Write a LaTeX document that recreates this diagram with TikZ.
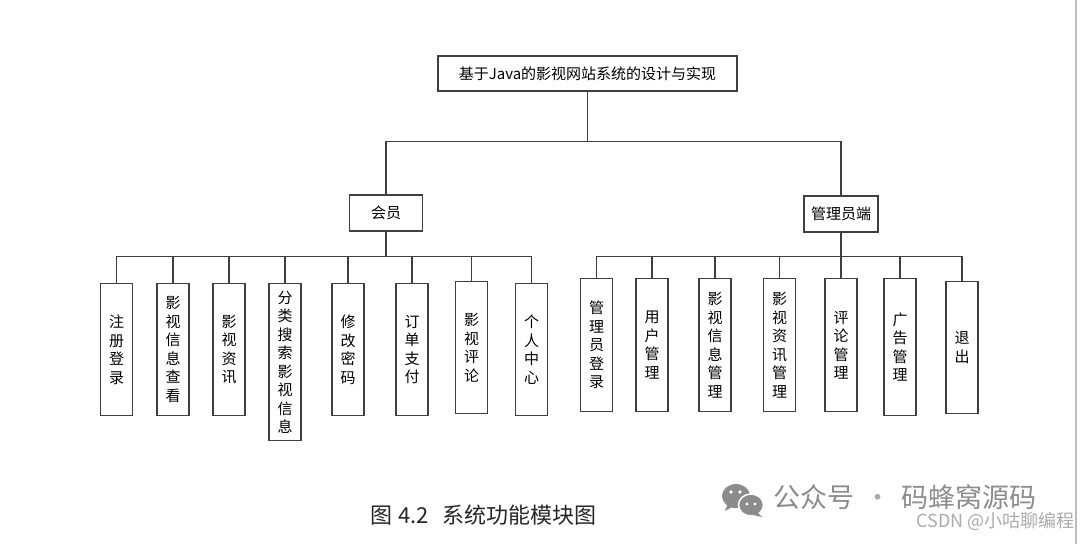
\documentclass[tikz,border=0pt]{standalone}
\usepackage{fontspec}
\setmainfont{Noto Sans CJK SC}
\usetikzlibrary{positioning}

\definecolor{linegray}{HTML}{3F3F3F}
\definecolor{wmgray}{HTML}{8C8C8C}
\definecolor{wmlight}{HTML}{ABABAB}
\definecolor{bordergray}{HTML}{BDBDBD}

\tikzset{
	line/.style={line width=1.4pt, draw=linegray},
	box/.style={draw=linegray, line width=1.4pt, inner sep=0pt, align=center, font=\fontsize{15pt}{18.5pt}\selectfont},
	leaf/.style={box, anchor=north, minimum width=32pt},
}

\begin{document}
\begin{tikzpicture}[x=1pt, y=-1pt]

\def\width{1080}
\def\height{544}

\path [use as bounding box] (0,0) rectangle (\width,\height);

% ROOT
\node [box, minimum width=299pt, minimum height=35pt] (root) at (587.5,73.5) {基于Java的影视网站系统的设计与实现};

% SECOND LEVEL
\node [box, minimum width=73pt, minimum height=36pt] (member) at (386,213) {会员};
\node [box, minimum width=74pt, minimum height=36pt] (admin) at (841,214) {管理员端};

% MEMBER LEAVES
\node [leaf, minimum height=132pt] (m1) at (116.5,283) {注\\册\\登\\录};
\node [leaf, minimum height=132pt] (m2) at (173,283) {影\\视\\信\\息\\查\\看};
\node [leaf, minimum height=132pt] (m3) at (229,283) {影\\视\\资\\讯};
\node [leaf, minimum height=157pt] (m4) at (285,283) {分\\类\\搜\\索\\影\\视\\信\\息};
\node [leaf, minimum height=132pt] (m5) at (348,283) {修\\改\\密\\码};
\node [leaf, minimum height=132pt] (m6) at (412,283) {订\\单\\支\\付};
\node [leaf, minimum height=132pt] (m7) at (471.5,281) {影\\视\\评\\论};
\node [leaf, minimum height=132pt] (m8) at (531.5,283) {个\\人\\中\\心};

% ADMIN LEAVES
\node [leaf, minimum height=133pt] (a1) at (596.5,278) {管\\理\\员\\登\\录};
\node [leaf, minimum height=133pt] (a2) at (652,278) {用\\户\\管\\理};
\node [leaf, minimum height=133pt] (a3) at (715,278) {影\\视\\信\\息\\管\\理};
\node [leaf, minimum height=133pt] (a4) at (779.5,278) {影\\视\\资\\讯\\管\\理};
\node [leaf, minimum height=133pt] (a5) at (841,278) {评\\论\\管\\理};
\node [leaf, minimum height=137pt] (a6) at (900,278) {广\\告\\管\\理};
\node [leaf, minimum height=132pt] (a7) at (962,281) {退\\出};

% CONNECTORS
\draw [line] (root.south) -- ++(0,50) coordinate (tbar);
\draw [line] (tbar) -| (member.north);
\draw [line] (tbar) -| (admin.north);

\draw [line] (member.south) -- ++(0,25) coordinate (mbar);
\draw [line] (mbar) -| (m1.north);
\draw [line] (mbar) -| (m2.north);
\draw [line] (mbar) -| (m3.north);
\draw [line] (mbar) -| (m4.north);
\draw [line] (mbar) -| (m5.north);
\draw [line] (mbar) -| (m6.north);
\draw [line] (mbar) -| (m7.north);
\draw [line] (mbar) -| (m8.north);

\draw [line] (admin.south) -- ++(0,24) coordinate (abar);
\draw [line] (abar) -| (a1.north);
\draw [line] (abar) -| (a2.north);
\draw [line] (abar) -| (a3.north);
\draw [line] (abar) -| (a4.north);
\draw [line] (abar) -| (a5.north);
\draw [line] (abar) -| (a6.north);
\draw [line] (abar) -| (a7.north);

% CAPTION
\node [anchor=west, inner sep=0pt, text=black!85, font=\fontsize{22pt}{24pt}\selectfont] (caption) at (370,515) {图\hspace{6pt}4.2\hspace{14pt}系统功能模块图};

% WATERMARK
\fill [wmgray] (736,496) ellipse [x radius=14pt, y radius=12pt];
\fill [wmgray] (728,503) -- (725,511) -- (734,506) -- cycle;
\fill [wmgray, draw=white, line width=1.5pt] (751,505) ellipse [x radius=12.5pt, y radius=11pt];
\fill [wmgray] (757,512) -- (762,517) -- (753,515) -- cycle;
\fill [white] (731,492) circle [radius=1.8pt] (740,492) circle [radius=1.8pt];
\fill [white] (747,504) circle [radius=1.6pt] (755,504) circle [radius=1.6pt];
\node [anchor=west, inner sep=0pt, text=wmgray, font=\fontsize{27pt}{30pt}\selectfont] (wm) at (773,497) {公众号\hspace{10pt}{\color{wmlight}·}\hspace{10pt}码蜂窝源码};
\node [anchor=east, inner sep=0pt, text=wmlight, font=\fontsize{18pt}{20pt}\selectfont] (csdn) at (1075,521) {CSDN @小咕聊编程};
\draw [line width=2pt, bordergray] (1076,0) -- (1076,\height);

\end{tikzpicture}
\end{document}
